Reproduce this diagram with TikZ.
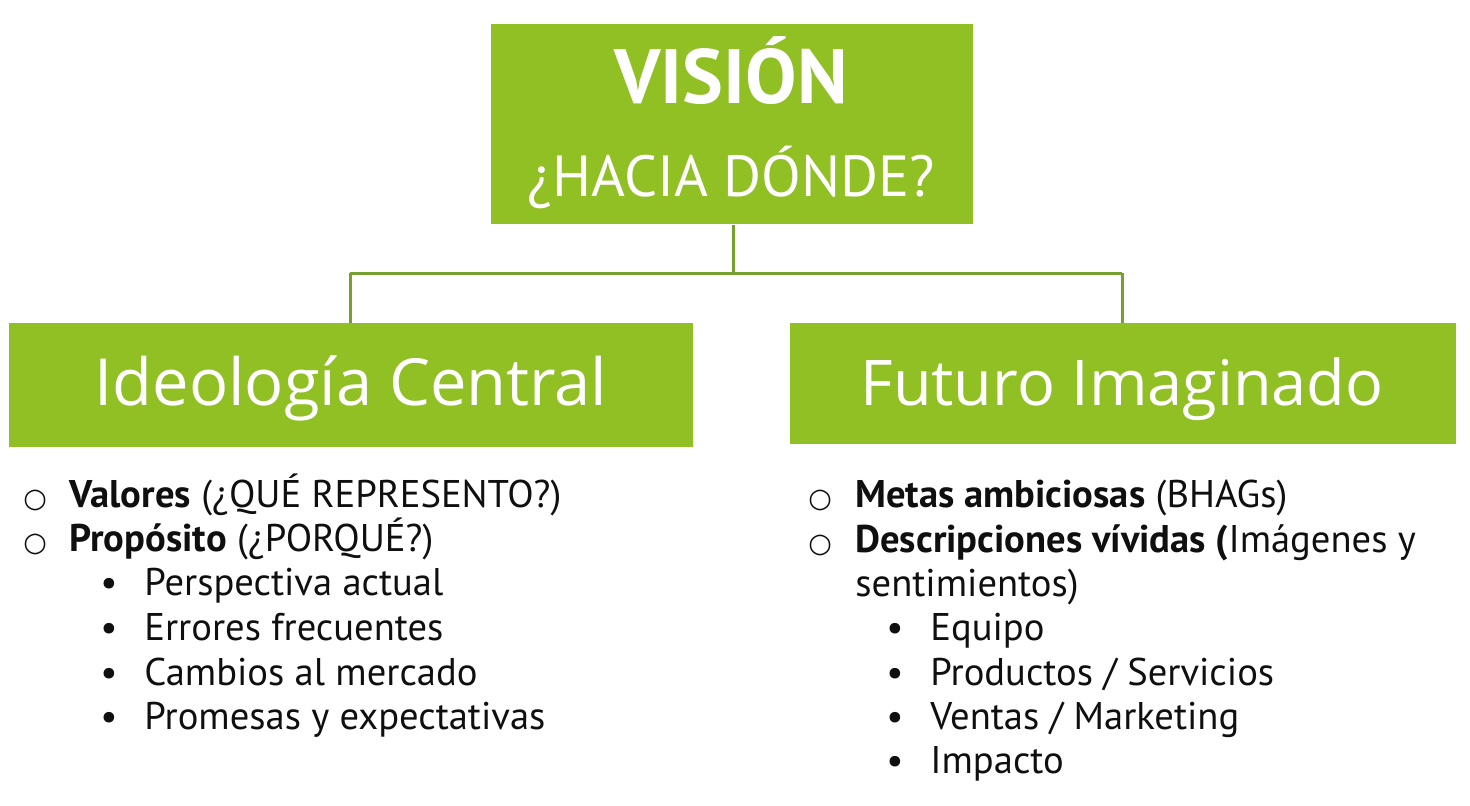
\documentclass[tikz,border=0pt]{standalone}
\usepackage{fontspec}
\setmainfont{PT Sans}
\newfontfamily\headfont{Open Sans}
\newfontfamily\symfont{DejaVu Sans}
\definecolor{boxgreen}{RGB}{145,192,36}
\definecolor{linegreen}{RGB}{118,160,48}
\definecolor{txt}{RGB}{15,15,15}
\tikzset{
  greenbox/.style={fill=boxgreen, draw=none},
  conn/.style={draw=linegreen, line width=1.5pt},
  listtext/.style={anchor=base west, inner sep=0pt, font=\fontsize{19.3}{22}\selectfont, text=txt},
  circbullet/.style={anchor=base west, inner sep=0pt, font=\symfont\fontsize{13.5}{15}\selectfont, text=txt},
  dotbullet/.style={anchor=base west, inner sep=0pt, font=\fontsize{19}{22}\selectfont, text=txt},
  headtext/.style={anchor=base, inner sep=0pt, text=white, font=\headfont\fontsize{32.5}{36}\selectfont},
}
\begin{document}
\begin{tikzpicture}[x=0.5pt,y=-0.5pt]
\useasboundingbox (0,0) rectangle (1470,805);
% boxes
\node[greenbox, minimum width=241pt, minimum height=100pt, anchor=north west] (vis) at (491,24) {};
\node[greenbox, minimum width=342pt, minimum height=62pt, anchor=north west] (ide) at (9,323) {};
\node[greenbox, minimum width=333pt, minimum height=60.5pt, anchor=north west] (fut) at (790,323) {};
% headings
\node[headtext, font=\bfseries\fontsize{38.5}{42}\selectfont] (visT) at (731,103) {VISIÓN};
\node[headtext, font=\fontsize{29}{34}\selectfont] (hacT) at (731,196) {¿HACIA DÓNDE?};
\node[headtext] (ideT) at (351,405) {Ideología Central};
\node[headtext, font=\headfont\fontsize{31.5}{36}\selectfont] (futT) at (1122,405) {Futuro Imaginado};
% connectors
\coordinate (jn) at (733,273);
\draw[conn] (vis.south -| jn) -- (jn);
\draw[conn] (350,273) -- (1122,273);
\draw[conn] (350,273) -- (ide.north -| 350,0);
\draw[conn] (1122,273) -- (fut.north -| 1122,0);
% left list
\node[circbullet] (lc1) at (23,507) {○};
\node[listtext] (l1) at (69,507) {\textbf{Valores} (¿QUÉ REPRESENTO?)};
\node[circbullet] (lc2) at (23,551) {○};
\node[listtext] (l2) at (69,551) {\textbf{Propósito} (¿PORQUÉ?)};
\node[dotbullet] (lb1) at (100,595) {•};
\node[listtext] (l3) at (144,595) {Perspectiva actual};
\node[dotbullet] (lb2) at (100,640) {•};
\node[listtext] (l4) at (144,640) {Errores frecuentes};
\node[dotbullet] (lb3) at (100,685) {•};
\node[listtext] (l5) at (144,685) {Cambios al mercado};
\node[dotbullet] (lb4) at (100,729) {•};
\node[listtext] (l6) at (144,729) {Promesas y expectativas};
% right list
\node[circbullet] (rc1) at (808,507) {○};
\node[listtext] (r1) at (855,507) {\textbf{Metas ambiciosas} (BHAGs)};
\node[circbullet] (rc2) at (808,552) {○};
\node[listtext] (r2) at (855,552) {\textbf{Descripciones vívidas (}Imágenes y};
\node[listtext] (r2b) at (855,596) {sentimientos)};
\node[dotbullet] (rb1) at (886,640) {•};
\node[listtext] (r3) at (930,640) {Equipo};
\node[dotbullet] (rb2) at (886,685) {•};
\node[listtext] (r4) at (930,685) {Productos / Servicios};
\node[dotbullet] (rb3) at (886,729) {•};
\node[listtext] (r5) at (930,729) {Ventas / Marketing};
\node[dotbullet] (rb4) at (886,773) {•};
\node[listtext] (r6) at (930,773) {Impacto};
\end{tikzpicture}
\end{document}
